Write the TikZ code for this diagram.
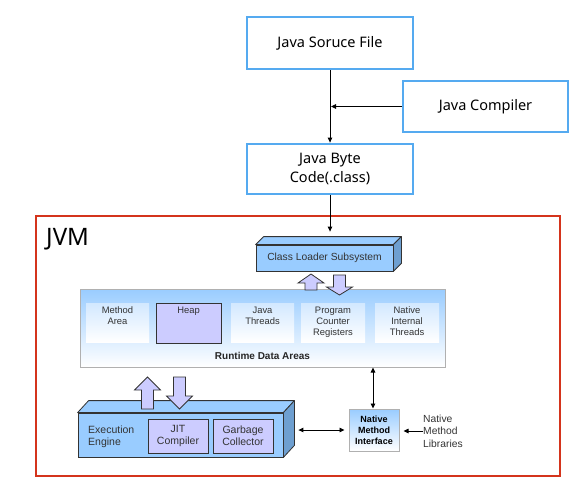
\documentclass[tikz,border=0pt]{standalone}
\usepackage{fontspec}
\setmainfont{Liberation Sans}
\newfontfamily\topfont{Noto Sans}
\usetikzlibrary{arrows.meta,calc}
\definecolor{boxblue}{HTML}{55AAF0}
\definecolor{jvmred}{HTML}{D4341C}
\definecolor{face}{HTML}{99CCFF}
\definecolor{sideface}{HTML}{6E9FD0}
\definecolor{lav}{HTML}{CCCCFF}
\definecolor{edge}{HTML}{333333}
\definecolor{rdaedge}{HTML}{B0B0B0}
\definecolor{innertop}{HTML}{D2E8FF}
\definecolor{txtgray}{HTML}{333333}
\newcommand\hollowup[4]{\draw[hollow] ({#1-6},#4) -- ({#1-6},#3) -- ({#1-13},#3) -- (#1,#2) -- ({#1+13},#3) -- ({#1+6},#3) -- ({#1+6},#4) -- cycle;}
\newcommand\hollowdown[4]{\draw[hollow] ({#1-6},#2) -- ({#1-6},#3) -- ({#1-13},#3) -- (#1,#4) -- ({#1+13},#3) -- ({#1+6},#3) -- ({#1+6},#2) -- cycle;}
\begin{document}
\begin{tikzpicture}[x=1pt,y=-1pt,
  topbox/.style={draw=boxblue,line width=2.8pt,fill=white,inner sep=0pt,align=center,
    font=\topfont\fontsize{14.5}{19}\selectfont},
  conn/.style={draw=black,line width=0.9pt,-{Triangle[length=5pt,width=4.5pt]}},
  bconn/.style={draw=black,line width=0.9pt,{Triangle[length=5pt,width=4.5pt]}-{Triangle[length=5pt,width=4.5pt]}},
  front/.style={draw=edge,line width=0.8pt,fill=face,inner sep=0pt},
  face3d/.style={draw=edge,line width=0.8pt,fill=face,line join=round},
  side3d/.style={draw=edge,line width=0.8pt,fill=sideface,line join=round},
  inner/.style={inner sep=0pt,top color=innertop,bottom color=white,draw=none},
  lavbox/.style={draw=edge,line width=0.9pt,fill=lav,inner sep=0pt},
  small/.style={font=\fontsize{9.4}{11}\selectfont,text=txtgray,align=center,inner sep=0pt},
  mid/.style={font=\fontsize{10.5}{12}\selectfont,text=txtgray,align=center,inner sep=0pt},
  hollow/.style={draw=edge,line width=0.8pt,fill=lav,line join=miter}]
\useasboundingbox (0,0) rectangle (583,488);
% top flow
\node[topbox,minimum width=166pt,minimum height=52pt] (src) at (330,43) {Java Soruce File};
\node[topbox,minimum width=165pt,minimum height=51pt] (comp) at (485.5,106.5) {Java Compiler};
\node[topbox,minimum width=166pt,minimum height=50pt] (byte) at (330,169) {Java Byte\\Code(.class)};
\draw[conn] (src.south) -- (byte.north);
\draw[conn] (comp.west) -- ([xshift=1pt]comp.west -| src.south);
% JVM frame
\node[draw=jvmred,line width=2.4pt,minimum width=524pt,minimum height=260pt,inner sep=0pt] (jvm) at (298,346) {};
\node[anchor=north west,inner sep=0pt,font=\topfont\fontsize{24}{26}\selectfont] (jvmlabel) at (46,228) {JVM};
% class loader
\node[front,minimum width=137pt,minimum height=26pt] (cls) at (324.5,258) {};
\draw[face3d] (cls.north west) -- ++(8,-8) -- ($(cls.north east)+(8,-8)$) -- (cls.north east) -- cycle;
\draw[side3d] (cls.north east) -- ++(8,-8) -- ($(cls.south east)+(8,-8)$) -- (cls.south east) -- cycle;
\node[mid,font=\fontsize{10.3}{12}\selectfont] (clstext) at (cls.center) {Class Loader Subsystem};
\coordinate (clstop) at ($(cls.north)+(0,-8)$);
\draw[conn,shorten >=5pt] (byte.south) -- (byte.south |- clstop);
% runtime data areas
\node[draw=rdaedge,line width=1pt,top color=face,bottom color=white,inner sep=0pt,minimum width=365pt,minimum height=78pt] (rda) at (262.5,328) {};
\node[inner,minimum width=63pt,minimum height=39pt] (meth) at (117.5,322.5) {};
\node[lavbox,minimum width=65pt,minimum height=40pt] (heap) at (188.5,323) {};
\node[inner,minimum width=63pt,minimum height=39pt] (jthr) at (262.5,322.5) {};
\node[inner,minimum width=64pt,minimum height=39pt] (pcr) at (333,322.5) {};
\node[inner,minimum width=64pt,minimum height=39pt] (nit) at (407,322.5) {};
\node[small,anchor=north] at ([yshift=-4pt]meth.north) {Method\\Area};
\node[small,anchor=north] at ([yshift=-4pt]heap.north) {Heap};
\node[small,anchor=north] at ([yshift=-4pt]jthr.north) {Java\\Threads};
\node[small,anchor=north] at ([yshift=-4pt]pcr.north) {Program\\Counter\\Registers};
\node[small,anchor=north] at ([yshift=-4pt]nit.north) {Native\\Internal\\Threads};
\node[font=\bfseries\fontsize{10}{12}\selectfont,text=black!85,inner sep=0pt] (rdalabel) at (262.5,356) {Runtime Data Areas};
% arrows class loader <-> rda
\hollowup{311}{274}{283}{290}
\hollowdown{339.5}{275}{287}{295}
% execution engine
\node[front,minimum width=205pt,minimum height=44pt] (eng) at (180.5,435) {};
\draw[face3d] (eng.north west) -- ++(11,-12) -- ($(eng.north east)+(11,-12)$) -- (eng.north east) -- cycle;
\draw[side3d] (eng.north east) -- ++(11,-12) -- ($(eng.south east)+(11,-12)$) -- (eng.south east) -- cycle;
\node[mid,align=left,anchor=west] (engtext) at (88,436.5) {Execution\\Engine};
\node[lavbox,minimum width=60pt,minimum height=34pt,mid] (jit) at (178,436) {JIT\\Compiler};
\node[lavbox,minimum width=60pt,minimum height=34pt,mid] (gc) at (243,436) {Garbage\\Collector};
\hollowup{147.5}{377}{390}{409}
\hollowdown{179.5}{377}{396}{409}
% native method interface
\node[draw=rdaedge,line width=1pt,top color=face,bottom color=white,minimum width=50pt,minimum height=42pt,inner sep=0pt,
  font=\bfseries\fontsize{9}{11}\selectfont,align=center] (nmi) at (374,430) {Native\\Method\\Interface};
\node[mid,align=left,anchor=west,font=\fontsize{10.3}{12.5}\selectfont] (libs) at (423,431) {Native\\Method\\Libraries};
\coordinate (engright) at ($(eng.east)+(11,-6)$);
\draw[bconn,shorten <=4pt,shorten >=4pt] (engright |- nmi.west) -- (nmi.west);
\draw[bconn] (nmi.north -| 373,0) -- (rda.south -| 373,0);
\draw[conn,shorten >=4pt] (libs.west) -- (libs.west -| nmi.east);
\end{tikzpicture}
\end{document}
